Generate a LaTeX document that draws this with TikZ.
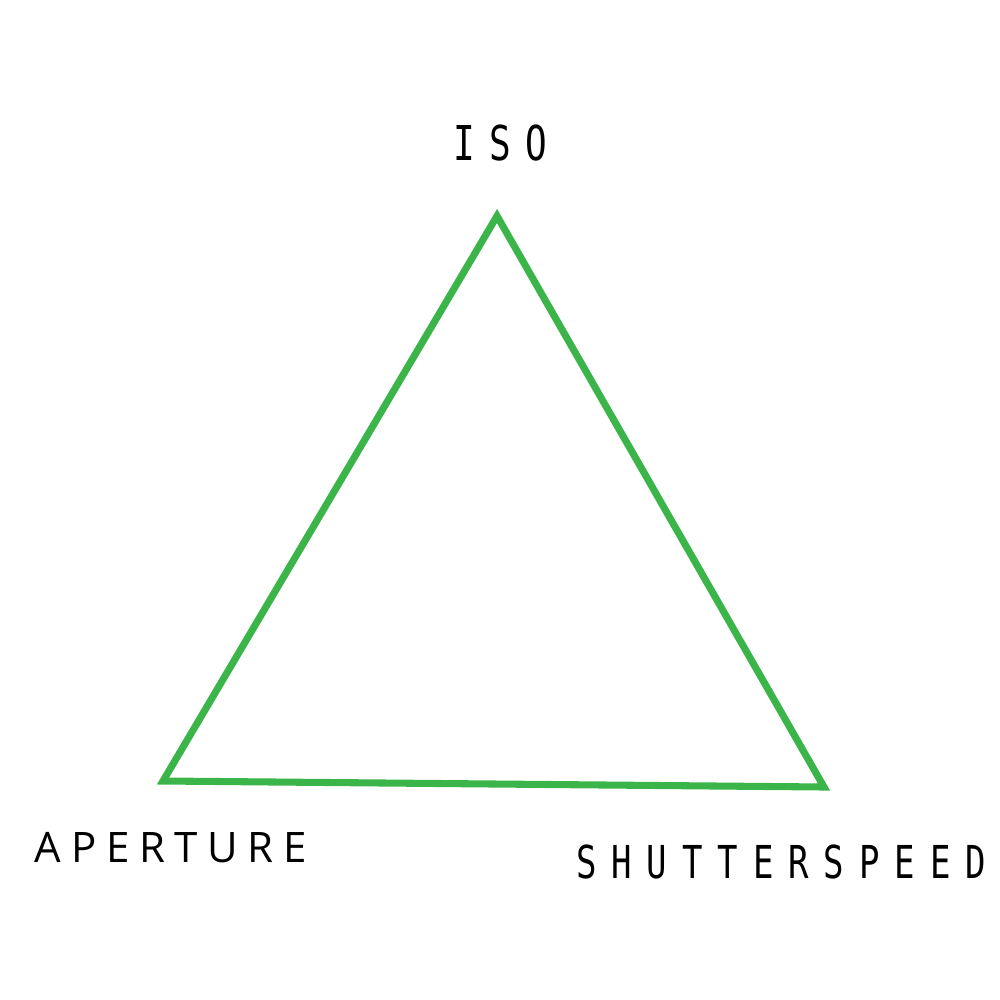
\documentclass[tikz,border=0pt]{standalone}
\usepackage{fontspec}
\usepackage{graphicx}
\newfontfamily\monofnt[LetterSpace=40]{DejaVu Sans Mono}
\newfontfamily\monofntb[LetterSpace=44]{DejaVu Sans Mono}
\newfontfamily\sansfnt[LetterSpace=23]{Open Sans}
\definecolor{trigreen}{RGB}{59,181,74}
\tikzset{
  edge/.style={draw=trigreen, line width=5.3pt, line join=miter},
  lbl/.style={anchor=base west, inner sep=0pt, outer sep=0pt, text=black}
}
\begin{document}
\begin{tikzpicture}[x=0.75pt,y=-0.75pt]
\useasboundingbox (0,0) rectangle (1000,1000);
\coordinate (top) at (497,216);
\coordinate (bl) at (163,781);
\coordinate (br) at (824,787);
\draw[edge] (top) -- (bl) -- (br) -- cycle;
\node[lbl] (iso) at (453,160) {\scalebox{0.75}[1]{\fontsize{36pt}{40pt}\monofnt ISO}};
\node[lbl] (ap) at (35,862) {\fontsize{31.5pt}{36pt}\sansfnt APERTURE};
\node[lbl] (ss) at (576,878) {\scalebox{0.75}[1]{\fontsize{34pt}{38pt}\monofntb SHUTTERSPEED}};
\end{tikzpicture}
\end{document}
